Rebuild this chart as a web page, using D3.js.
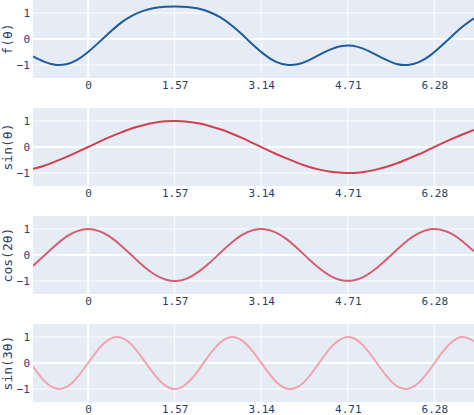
<!DOCTYPE html>
<html>
<head>
<meta charset="utf-8">
<script src="https://cdn.jsdelivr.net/npm/d3@7"></script>
<style>
  body { margin: 0; background: #fff; }
  svg { display: block; }
  .tick text { font-family: "DejaVu Sans Mono", monospace; font-size: 11px; fill: #2a3f5f; }
  .ytitle { font-family: "DejaVu Sans Mono", monospace; font-size: 13px; fill: #2a3f5f; }
</style>
</head>
<body>
<div id="chart"></div>
<script>
const theta = [-1.0, -0.8, -0.6, -0.4, -0.2, 0.0, 0.2, 0.4, 0.6, 0.8, 1.0, 1.2, 1.4, 1.6, 1.8, 2.0,
    2.2, 2.4, 2.6, 2.8, 3.0, 3.2, 3.4, 3.6, 3.8, 4.0, 4.2, 4.4, 4.6, 4.8, 5.0, 5.2, 5.4, 5.6, 5.8,
    6.0, 6.2, 6.4, 6.6, 6.8, 7.0];

const fValues = [-0.67, -0.87, -0.99, -0.97, -0.80, -0.50, -0.12, 0.27, 0.63, 0.90, 1.08, 1.19, 1.24,
    1.25, 1.23, 1.17, 1.04, 0.83, 0.53, 0.16, -0.24, -0.60, -0.87, -0.99, -0.97, -0.82, -0.60, -0.40,
    -0.27, -0.26, -0.38, -0.58, -0.79, -0.96, -1.00, -0.89, -0.64, -0.28, 0.11, 0.49, 0.80];

const sinValues = [-0.84, -0.72, -0.56, -0.39, -0.20, 0.00, 0.20, 0.39, 0.56, 0.72, 0.84, 0.93, 0.99,
    1.00, 0.97, 0.91, 0.81, 0.68, 0.52, 0.34, 0.14, -0.06, -0.26, -0.44, -0.61, -0.76, -0.87, -0.95,
    -0.99, -1.00, -0.96, -0.88, -0.77, -0.63, -0.46, -0.28, -0.08, 0.12, 0.31, 0.49, 0.66];

const cos2Values = [-0.42, -0.03, 0.36, 0.70, 0.92, 1.00, 0.92, 0.70, 0.36, -0.03, -0.42, -0.74, -0.94,
    -1.00, -0.90, -0.65, -0.31, 0.09, 0.47, 0.78, 0.96, 0.99, 0.87, 0.61, 0.25, -0.15, -0.52, -0.81,
    -0.97, -0.98, -0.84, -0.56, -0.19, 0.20, 0.57, 0.84, 0.99, 0.97, 0.81, 0.51, 0.14];

const sin3Values = [-0.14, -0.68, -0.97, -0.93, -0.56, 0.00, 0.56, 0.93, 0.97, 0.68, 0.14, -0.44, -0.87,
    -1.00, -0.77, -0.28, 0.31, 0.79, 1.00, 0.85, 0.41, -0.17, -0.70, -0.98, -0.92, -0.54, 0.03, 0.59,
    0.94, 0.97, 0.65, 0.11, -0.47, -0.89, -0.99, -0.75, -0.25, 0.34, 0.81, 1.00, 0.84];

const xTickValues = [0, 1.57, 3.14, 4.71, 6.28];
const xTickLabels = ["0", "1.57", "3.14", "4.71", "6.28"];
const yTickValues = [-1, 0, 1];
const yTickLabels = ["−1", "0", "1"];

const panelTitles = ["f(θ)", "sin(θ)", "cos(2θ)", "sin(3θ)"];
const panelSeries = [fValues, sinValues, cos2Values, sin3Values];
const panelColors = ["#1f5c99", "#d1404f", "#d45f6e", "#f3a3ab"];

const width = 474, height = 415;
const plotLeft = 33, plotRight = 474;
const panelStep = 108, panelHeight = 78;

const svg = d3.select("#chart").append("svg")
    .attr("width", width)
    .attr("height", height);

const x = d3.scaleLinear().domain([-1, 7]).range([plotLeft, plotRight]);

panelTitles.forEach((title, i) => {
    const top = i * panelStep;
    const y = d3.scaleLinear().domain([-1.5, 1.5]).range([top + panelHeight, top]);
    const g = svg.append("g");

    g.append("rect")
        .attr("x", plotLeft).attr("y", top)
        .attr("width", plotRight - plotLeft).attr("height", panelHeight)
        .attr("fill", "#e5ecf6");

    // grid
    g.selectAll(".vgrid")
        .data(xTickValues)
        .enter().append("line")
        .attr("x1", d => x(d)).attr("x2", d => x(d))
        .attr("y1", top).attr("y2", top + panelHeight)
        .attr("stroke", "#fff")
        .attr("stroke-width", d => d === 0 ? 2 : 1);

    g.selectAll(".hgrid")
        .data(yTickValues)
        .enter().append("line")
        .attr("x1", plotLeft).attr("x2", plotRight)
        .attr("y1", d => y(d)).attr("y2", d => y(d))
        .attr("stroke", "#fff")
        .attr("stroke-width", d => d === 0 ? 2 : 1);

    // axes
    g.append("g")
        .attr("transform", `translate(0,${top + panelHeight})`)
        .call(d3.axisBottom(x).tickValues(xTickValues).tickFormat((d, j) => xTickLabels[j]).tickSize(0).tickPadding(3))
        .call(a => a.select(".domain").remove());

    g.append("g")
        .attr("transform", `translate(${plotLeft},0)`)
        .call(d3.axisLeft(y).tickValues(yTickValues).tickFormat((d, j) => yTickLabels[j]).tickSize(0).tickPadding(3))
        .call(a => a.select(".domain").remove());

    g.append("text")
        .attr("class", "ytitle")
        .attr("transform", `translate(12,${top + panelHeight / 2}) rotate(-90)`)
        .attr("text-anchor", "middle")
        .text(title);

    const clipId = "clip" + i;
    g.append("clipPath").attr("id", clipId)
        .append("rect")
        .attr("x", plotLeft).attr("y", top)
        .attr("width", plotRight - plotLeft).attr("height", panelHeight);

    const line = d3.line()
        .x((d, j) => x(theta[j]))
        .y(d => y(d))
        .curve(d3.curveNatural);

    g.append("path")
        .datum(panelSeries[i])
        .attr("clip-path", `url(#${clipId})`)
        .attr("fill", "none")
        .attr("stroke", panelColors[i])
        .attr("stroke-width", 2)
        .attr("d", line);
});
</script>
</body>
</html>
